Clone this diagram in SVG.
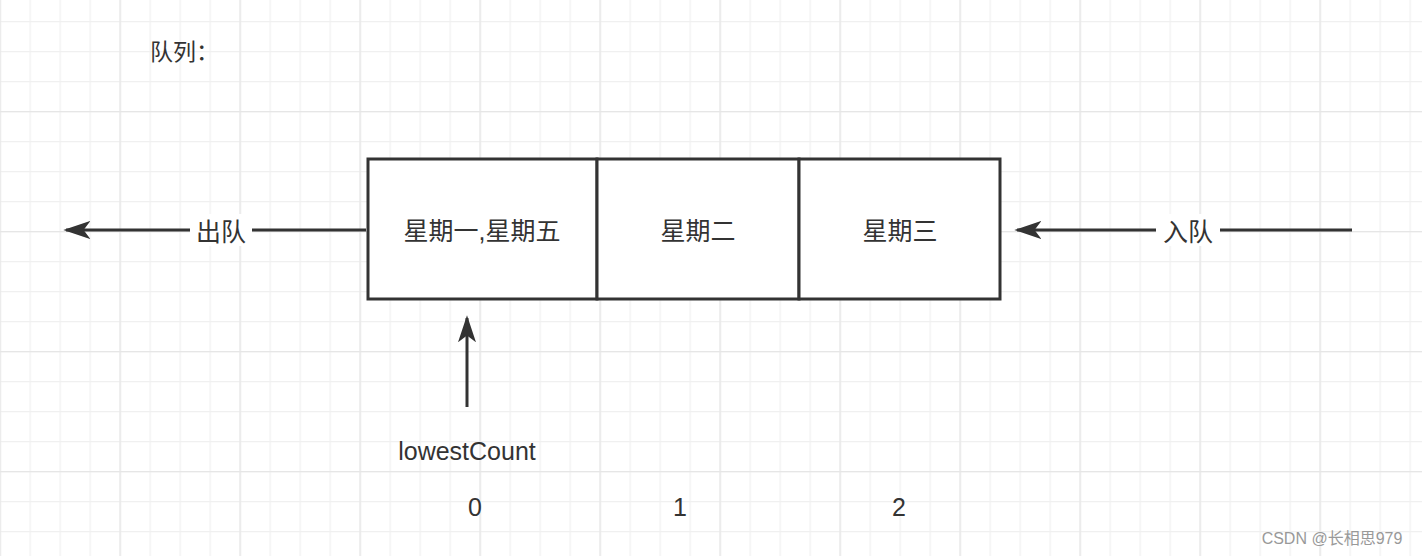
<svg xmlns="http://www.w3.org/2000/svg" width="1422" height="556" viewBox="0 0 1422 556">
<style>
text{font-family:"Liberation Sans","Noto Sans CJK SC",sans-serif;fill:#333;font-size:25px;text-anchor:middle}
.ln{stroke:#333;stroke-width:3;fill:none}
.bx{stroke:#333;stroke-width:3;fill:#fff}
</style>
<defs>
<pattern id="g" width="30" height="30" patternUnits="userSpaceOnUse" x="-0.5" y="21">
<path d="M0.5 0V30M0 0.5H30" stroke="#f0f0f0" stroke-width="1.5" fill="none"/>
</pattern>
<pattern id="G" width="120" height="120" patternUnits="userSpaceOnUse" x="-0.5" y="-9">
<path d="M0.5 0V120M0 0.5H120" stroke="#e6e6e6" stroke-width="1.5" fill="none"/>
</pattern>
<marker id="b" viewBox="0 0 10 10" refX="9" refY="5" markerWidth="27" markerHeight="18" markerUnits="userSpaceOnUse" orient="auto" preserveAspectRatio="none"><path d="M0 0L10 5L0 10L2.5 5Z" fill="#333"/></marker>
</defs>
<rect width="1422" height="556" fill="#fff"/>
<rect width="1422" height="556" fill="url(#g)"/>
<rect width="1422" height="556" fill="url(#G)"/>
<text x="150" y="60" style="text-anchor:start;font-size:23px">队列：</text>
<g id="connectors">
<line class="ln" x1="366" y1="230" x2="66" y2="230" marker-end="url(#b)"/>
<line class="ln" x1="1352" y1="230" x2="1017" y2="230" marker-end="url(#b)"/>
<line class="ln" x1="467" y1="407" x2="467" y2="318" marker-end="url(#b)"/>
<rect x="190" y="214" width="62" height="32" fill="#fff"/>
<text x="221" y="241">出队</text>
<rect x="1156" y="214" width="64" height="32" fill="#fff"/>
<text x="1188" y="241">入队</text>
</g>
<g id="n0"><rect class="bx" x="368" y="159" width="229" height="140"/><text x="482" y="240">星期一,星期五</text></g>
<g id="n1"><rect class="bx" x="597" y="159" width="202" height="140"/><text x="698" y="240">星期二</text></g>
<g id="n2"><rect class="bx" x="799" y="159" width="201" height="140"/><text x="900" y="240">星期三</text></g>
<text x="467" y="460">lowestCount</text>
<text x="475" y="516">0</text>
<text x="680" y="516">1</text>
<text x="899" y="516">2</text>
<text x="1332" y="544" style="font-size:16px;fill:#999">CSDN @长相思979</text>
</svg>
